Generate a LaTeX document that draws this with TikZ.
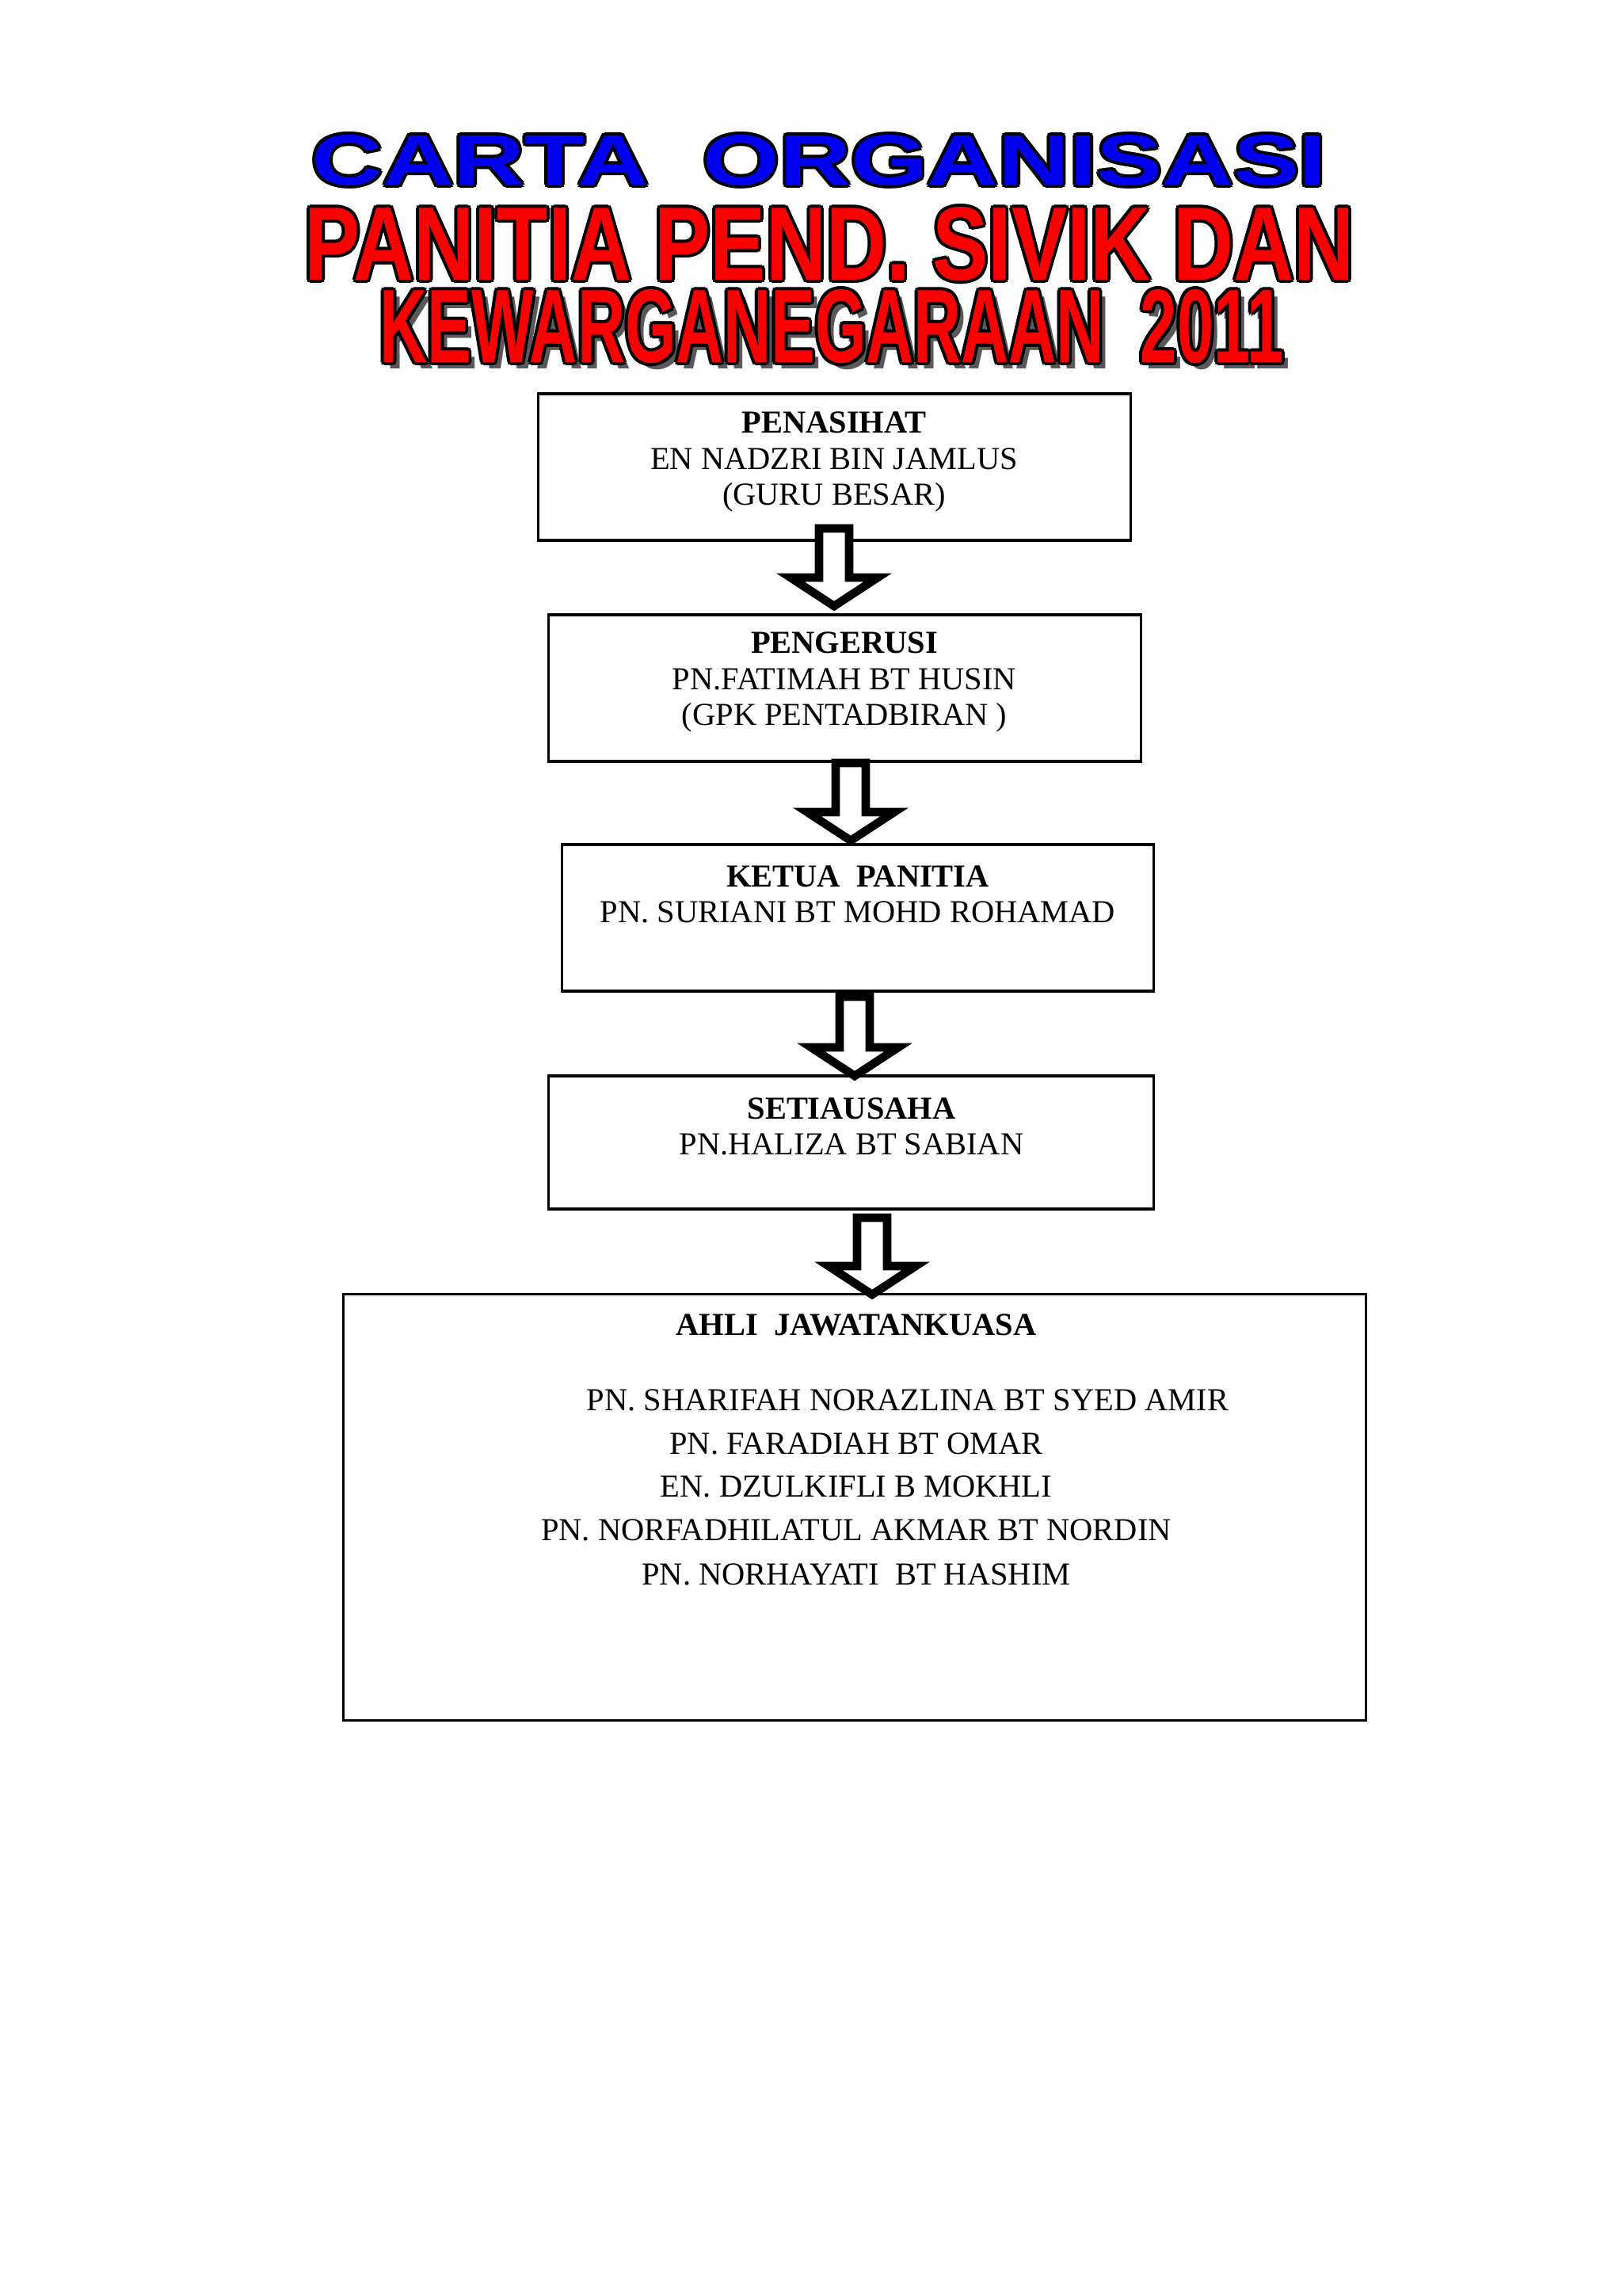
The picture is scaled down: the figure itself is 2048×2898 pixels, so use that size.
\documentclass[tikz,border=0pt]{standalone}
\usepackage{fontspec}
\setmainfont{Liberation Serif}
\newfontfamily\titlefont{Liberation Sans}
\usetikzlibrary{calc}
\definecolor{tblue}{RGB}{0,0,240}
\definecolor{tred}{RGB}{250,0,0}
\newcommand{\outl}[6]{% x y w h color text
  \foreach \dx/\dy in {-3/-3,3/-3,-3/3,3/3,0/-4,0/4,-4/0,4/0}
    \node[inner sep=0,text=black] at ($(#1,#2)+(\dx,\dy)$) {\resizebox{#3}{#4}{\titlefont\bfseries #6}};
  \node[inner sep=0,text=#5] at (#1,#2) {\resizebox{#3}{#4}{\titlefont\bfseries #6}};}
\newcommand{\dnarrow}[3]{% x top bottom
  \draw[arr] ($(#1,#2)+(-19,0)$) -- ($(#1,#2)+(19,0)$) -- ($(#1,#3)+(19,-36)$) -- ($(#1,#3)+(55,-36)$) -- (#1,#3) -- ($(#1,#3)+(-55,-36)$) -- ($(#1,#3)+(-19,-36)$) -- cycle;}
\begin{document}
\begin{tikzpicture}[x=0.01cm,y=-0.01cm,
  box/.style={draw,line width=0.9pt,inner sep=0},
  arr/.style={draw,fill=white,line width=3pt,line join=miter},
  txt/.style={inner sep=0,font=\fontsize{11.5}{13}\selectfont,align=center}]
\useasboundingbox[fill=white] (0,0) rectangle (2048,2898);
% title
\outl{1034}{202}{12.8cm}{0.63cm}{tblue}{CARTA\ \ ORGANISASI}
\outl{1047}{308}{13.25cm}{0.92cm}{tred}{PANITIA PEND. SIVIK DAN}
\node[inner sep=0,text=black!65] at (1058,420) {\resizebox{11.4cm}{0.92cm}{\titlefont\bfseries KEWARGANEGARAAN\ \ 2011}};
\outl{1050}{412}{11.4cm}{0.92cm}{tred}{KEWARGANEGARAAN\ \ 2011}
% boxes
\node[box,minimum width=7.47cm,minimum height=1.85cm] (b1) at (1053.5,589.5) {};
\node[box,minimum width=7.47cm,minimum height=1.85cm] (b2) at (1066.5,868.5) {};
\node[box,minimum width=7.46cm,minimum height=1.85cm] (b3) at (1083,1158.5) {};
\node[box,minimum width=7.63cm,minimum height=1.68cm] (b4) at (1074.5,1442) {};
\node[box,minimum width=12.9cm,minimum height=5.37cm] (b5) at (1079,1902.5) {};
% texts
\node[txt] (t1) at (1053,583) {\textbf{PENASIHAT}\\EN NADZRI BIN JAMLUS\\(GURU BESAR)};
\node[txt] (t2) at (1066,861) {\textbf{PENGERUSI}\\PN.FATIMAH BT HUSIN\\(GPK PENTADBIRAN )};
\node[txt] (t3) at (1083,1129) {\textbf{KETUA\ \ PANITIA}\\PN. SURIANI BT MOHD ROHAMAD};
\node[txt] (t4) at (1075,1422) {\textbf{SETIAUSAHA}\\PN.HALIZA BT SABIAN};
\node[txt] (t5) at (1081,1672) {\textbf{AHLI\ \ JAWATANKUASA}};
\node[txt] (m1) at (1146,1767) {PN. SHARIFAH NORAZLINA BT SYED AMIR};
\node[txt] (m2) at (1081,1822) {PN. FARADIAH BT OMAR};
\node[txt] (m3) at (1081,1876) {EN. DZULKIFLI B MOKHLI};
\node[txt] (m4) at (1081,1931) {PN. NORFADHILATUL AKMAR BT NORDIN};
\node[txt] (m5) at (1081,1987) {PN. NORHAYATI\ \ BT HASHIM};
% arrows
\dnarrow{1053}{667}{765}
\dnarrow{1074}{963}{1061}
\dnarrow{1079}{1258}{1358}
\dnarrow{1101}{1537}{1634}
\end{tikzpicture}
\end{document}
